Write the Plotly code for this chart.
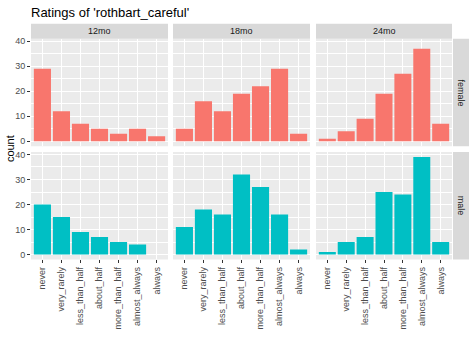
import plotly.graph_objects as go

# Rating categories (x axis) and facet labels
categories = ["never", "very_rarely", "less_than_half", "about_half",
              "more_than_half", "almost_always", "always"]
ages = ["12mo", "18mo", "24mo"]
sexes = ["female", "male"]

# Counts per category, by sex and age
female_12mo = [29, 12, 7, 5, 3, 5, 2]
female_18mo = [5, 16, 12, 19, 22, 29, 3]
female_24mo = [1, 4, 9, 19, 27, 37, 7]
male_12mo = [20, 15, 9, 7, 5, 4, 0]
male_18mo = [11, 18, 16, 32, 27, 16, 2]
male_24mo = [1, 5, 7, 25, 24, 39, 5]

counts = {
    ("female", "12mo"): female_12mo,
    ("female", "18mo"): female_18mo,
    ("female", "24mo"): female_24mo,
    ("male", "12mo"): male_12mo,
    ("male", "18mo"): male_18mo,
    ("male", "24mo"): male_24mo,
}
fill = {"female": "#F8766D", "male": "#00BFC4"}

W, H = 474, 338
col_px = [(31, 168), (173, 310), (316, 452)]
row_px = [(37, 145), (151, 259)]
strip_top = 22
rstrip = (453, 469)

def fx(px):
    return px / W

def fy(py):
    return 1 - py / H

ymax = max(max(v) for v in counts.values())
yrange = [-0.05 * ymax, ymax * 1.05]

fig = go.Figure()
layout = {}
shapes = []
annotations = []

for r, sex in enumerate(sexes):
    for c, age in enumerate(ages):
        idx = r * 3 + c + 1
        xa = "x" if idx == 1 else f"x{idx}"
        ya = "y" if idx == 1 else f"y{idx}"
        fig.add_trace(go.Bar(
            x=categories, y=counts[(sex, age)], xaxis=xa, yaxis=ya,
            marker=dict(color=fill[sex], line=dict(width=0)),
            showlegend=False, hoverinfo="x+y",
        ))
        bottom = r == 1
        left = c == 0
        layout[f"xaxis{'' if idx == 1 else idx}"] = dict(
            domain=[fx(col_px[c][0]), fx(col_px[c][1])],
            anchor=ya, type="category", categoryorder="array",
            categoryarray=categories, range=[-0.6, 6.6],
            showgrid=True, gridcolor="white", gridwidth=1.1,
            zeroline=False, showline=False,
            showticklabels=bottom, ticks="outside" if bottom else "",
            ticklen=3, tickcolor="#333333", tickwidth=1,
            tickangle=-90, tickfont=dict(size=9, color="#4D4D4D"),
            fixedrange=True,
        )
        layout[f"yaxis{'' if idx == 1 else idx}"] = dict(
            domain=[fy(row_px[r][1]), fy(row_px[r][0])],
            anchor=xa, range=yrange, tickvals=[0, 10, 20, 30, 40],
            showgrid=True, gridcolor="white", gridwidth=1.1,
            minor=dict(tickvals=[5, 15, 25, 35], showgrid=True,
                       gridcolor="white", gridwidth=0.5, ticks=""),
            zeroline=False, showline=False,
            showticklabels=left, ticks="outside" if left else "",
            ticklen=3, tickcolor="#333333", tickwidth=1,
            tickfont=dict(size=9, color="#4D4D4D"),
            fixedrange=True,
        )
        # panel background
        shapes.append(dict(type="rect", xref="paper", yref="paper",
                           x0=fx(col_px[c][0]), x1=fx(col_px[c][1]),
                           y0=fy(row_px[r][1]), y1=fy(row_px[r][0]),
                           fillcolor="#EBEBEB", line=dict(width=0),
                           layer="below"))

# column strips
for c, age in enumerate(ages):
    shapes.append(dict(type="rect", xref="paper", yref="paper",
                       x0=fx(col_px[c][0]), x1=fx(col_px[c][1]),
                       y0=fy(row_px[0][0]), y1=fy(strip_top),
                       fillcolor="#D9D9D9", line=dict(width=0)))
    annotations.append(dict(text=age, xref="paper", yref="paper",
                            x=fx((col_px[c][0] + col_px[c][1]) / 2),
                            y=fy((strip_top + row_px[0][0]) / 2),
                            showarrow=False, xanchor="center", yanchor="middle",
                            font=dict(size=9, color="#1A1A1A")))

# row strips
for r, sex in enumerate(sexes):
    shapes.append(dict(type="rect", xref="paper", yref="paper",
                       x0=fx(rstrip[0]), x1=fx(rstrip[1]),
                       y0=fy(row_px[r][1]), y1=fy(row_px[r][0]),
                       fillcolor="#D9D9D9", line=dict(width=0)))
    annotations.append(dict(text=sex, xref="paper", yref="paper",
                            x=fx((rstrip[0] + rstrip[1]) / 2),
                            y=fy((row_px[r][0] + row_px[r][1]) / 2),
                            showarrow=False, xanchor="center", yanchor="middle",
                            textangle=90,
                            font=dict(size=9, color="#1A1A1A")))

# y axis title
annotations.append(dict(text="count", xref="paper", yref="paper",
                        x=fx(10), y=fy((row_px[0][0] + row_px[1][1]) / 2),
                        showarrow=False, xanchor="center", yanchor="middle",
                        textangle=-90, font=dict(size=11, color="black")))

fig.update_layout(
    **layout,
    width=W, height=H,
    margin=dict(l=0, r=0, t=0, b=0),
    paper_bgcolor="white", plot_bgcolor="rgba(0,0,0,0)",
    bargap=0.1,
    font=dict(family="Liberation Sans, Arial, sans-serif"),
    title=dict(text="Ratings of 'rothbart_careful'", x=fx(31), xanchor="left",
               y=fy(12), yanchor="middle",
               font=dict(size=13, color="black")),
    shapes=shapes, annotations=annotations,
)

fig.write_html("out.html", config={"displayModeBar": False})
